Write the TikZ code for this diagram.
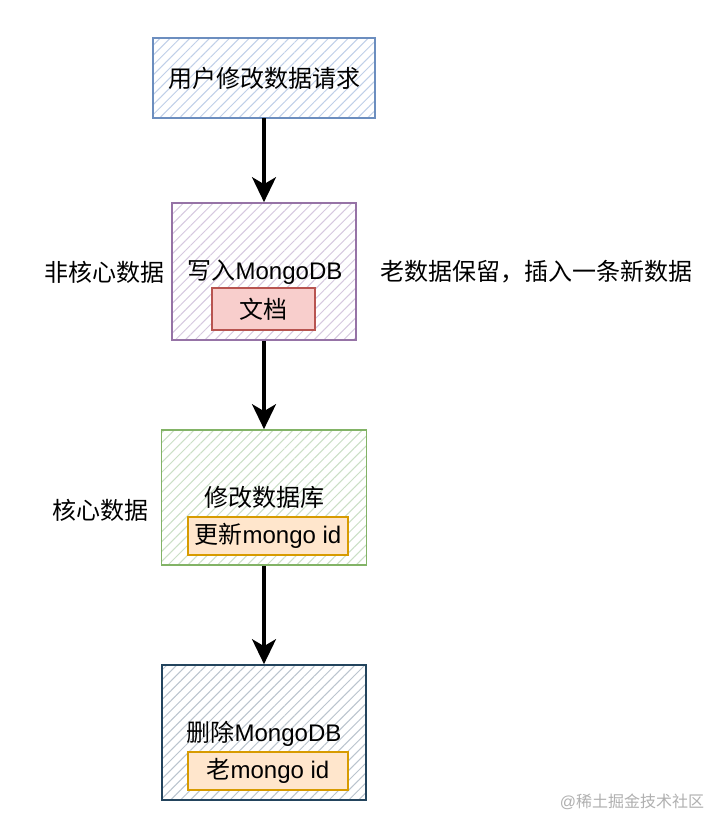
\documentclass[tikz,border=0pt]{standalone}
\usepackage{fontspec}
\setmainfont{Liberation Sans}
\newfontfamily\cjk{Noto Sans CJK SC}
\usetikzlibrary{patterns.meta,arrows.meta}
\definecolor{bluebd}{HTML}{6C8EBF}
\definecolor{bluehat}{HTML}{BFCFE8}
\definecolor{purpbd}{HTML}{9673A6}
\definecolor{purphat}{HTML}{D6C8DF}
\definecolor{greenbd}{HTML}{82B366}
\definecolor{greenhat}{HTML}{CBDFC6}
\definecolor{darkbd}{HTML}{23445D}
\definecolor{darkhat}{HTML}{BAC4CE}
\definecolor{redfill}{HTML}{F8CECC}
\definecolor{redbd}{HTML}{B85450}
\definecolor{orgfill}{HTML}{FFE6CC}
\definecolor{orgbd}{HTML}{D79B00}
\definecolor{wmark}{HTML}{B0B0B0}
\tikzset{
  txt/.style={font=\fontsize{24}{28}\selectfont, inner sep=0pt, text=black},
  outer/.style={draw=#1bd, line width=1.7pt, minimum width=0pt,
    pattern={Lines[angle=45,distance=7pt,line width=1pt]}, pattern color=#1hat},
  inner/.style={draw=#1bd, line width=1.3pt, fill=#1fill, inner sep=0pt,
    font=\fontsize{24}{28}\selectfont},
  arr/.style={line width=3.2pt, -{Stealth[width=24pt,length=25pt,inset=7pt]}},
}
\begin{document}
\begin{tikzpicture}[x=1pt,y=-1pt]
\useasboundingbox (0,0) rectangle (720,832);
\fill[white] (0,0) rectangle (720,832);
% outer boxes
\node[outer=blue, minimum width=222pt, minimum height=80pt] (b1) at (264,78) {};
\node[txt] (t1) at (264,78) {\cjk 用户修改数据请求};
\node[outer=purp, minimum width=184pt, minimum height=137pt] (b2) at (264,271.5) {};
\node[txt] (t2) at (265,272) {{\cjk 写入}MongoDB};
\node[inner=red, minimum width=103pt, minimum height=42pt] (i2) at (263.5,309) {\cjk 文档};
\node[outer=green, minimum width=205pt, minimum height=135pt] (b3) at (264,497.5) {};
\node[txt] (t3) at (264,497) {\cjk 修改数据库};
\node[inner=org, minimum width=160pt, minimum height=38pt] (i3) at (268,536) {{\cjk 更新}mongo id};
\node[outer=dark, minimum width=204pt, minimum height=135pt] (b4) at (264,732.5) {};
\node[txt] (t4) at (264,734) {{\cjk 删除}MongoDB};
\node[inner=org, minimum width=160pt, minimum height=38pt] (i4) at (268,771) {{\cjk 老}mongo id};
% arrows
\draw[arr] (b1) -- (b2);
\draw[arr] (b2) -- (b3);
\draw[arr] (b3) -- (b4);
% side labels
\node[txt] (l1) at (104,272) {\cjk 非核心数据};
\node[txt] (l2) at (536,272) {\cjk 老数据保留，插入一条新数据};
\node[txt] (l3) at (100,510) {\cjk 核心数据};
\node[font=\fontsize{16}{18}\selectfont, text=wmark, inner sep=0pt] (wm) at (632,802) {@{\cjk 稀土掘金技术社区}};
\end{tikzpicture}
\end{document}
